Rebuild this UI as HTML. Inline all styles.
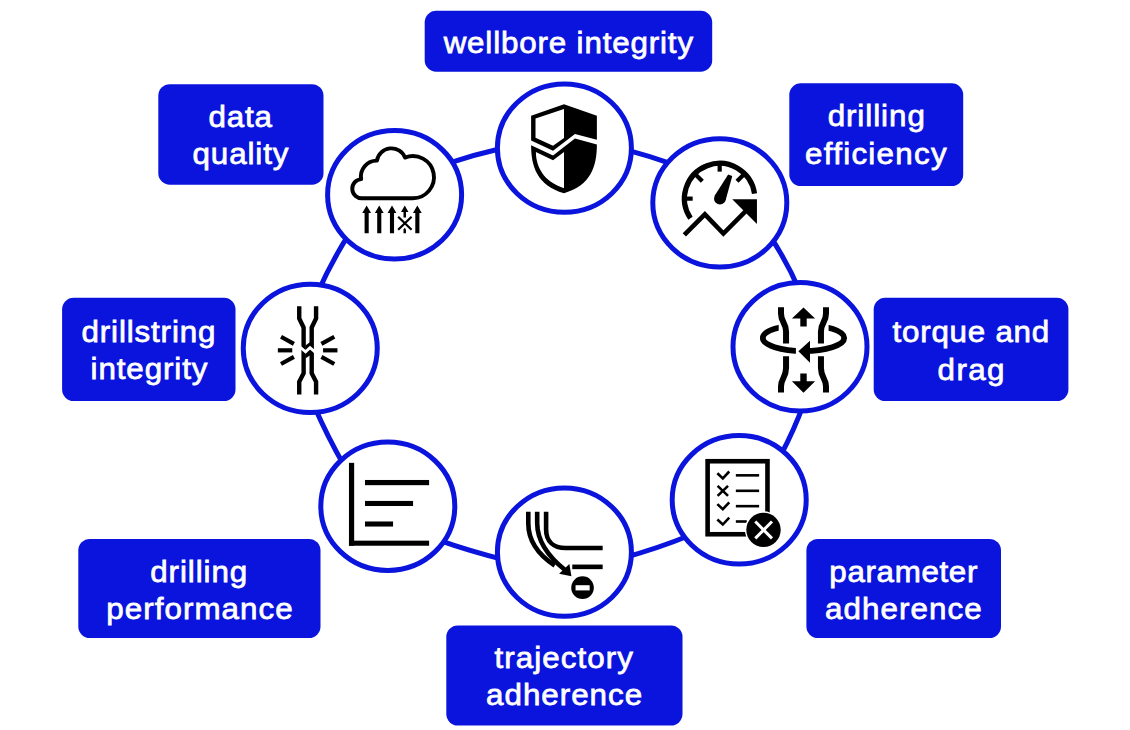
<!DOCTYPE html>
<html><head><meta charset="utf-8"><title>drilling KPIs</title>
<style>
html,body{margin:0;padding:0;background:#fff;}
body{width:1130px;height:730px;overflow:hidden;font-family:"Liberation Sans",sans-serif;}
svg{display:block}
.t{font-family:"Liberation Sans",sans-serif;font-size:30px;fill:#fff;text-anchor:middle;letter-spacing:0.9px;stroke:#fff;stroke-width:0.75px;}
</style></head><body>
<svg width="1130" height="730" viewBox="0 0 1130 730">
<path d="M444.8 164.4 Q474.4 154.5 505.2 147.5" fill="none" stroke="#0a14dc" stroke-width="5.0"/>
<path d="M622.9 148.8 Q649.3 155.8 674.7 164.9" fill="none" stroke="#0a14dc" stroke-width="5.0"/>
<path d="M768.9 234.5 Q787.2 261.6 799.6 291.0" fill="none" stroke="#0a14dc" stroke-width="5.0"/>
<path d="M803.9 403.2 Q794.0 430.7 779.9 456.8" fill="none" stroke="#0a14dc" stroke-width="5.0"/>
<path d="M691.3 534.8 Q658.1 548.4 622.9 558.0" fill="none" stroke="#0a14dc" stroke-width="5.0"/>
<path d="M505.6 560.1 Q470.3 551.4 436.5 539.4" fill="none" stroke="#0a14dc" stroke-width="5.0"/>
<path d="M344.6 466.4 Q327.4 436.6 314.0 405.5" fill="none" stroke="#0a14dc" stroke-width="5.0"/>
<path d="M317.8 292.5 Q331.1 262.2 349.3 233.7" fill="none" stroke="#0a14dc" stroke-width="5.0"/>
<ellipse cx="564.40" cy="148.10" rx="67" ry="64.2" fill="#fff" stroke="#0a14dc" stroke-width="5.0"/>
<ellipse cx="719.80" cy="202.85" rx="67" ry="64.2" fill="#fff" stroke="#0a14dc" stroke-width="5.0"/>
<ellipse cx="800.00" cy="346.80" rx="67" ry="64.2" fill="#fff" stroke="#0a14dc" stroke-width="5.0"/>
<ellipse cx="739.20" cy="499.80" rx="67" ry="64.2" fill="#fff" stroke="#0a14dc" stroke-width="5.0"/>
<ellipse cx="564.40" cy="552.10" rx="67" ry="64.2" fill="#fff" stroke="#0a14dc" stroke-width="5.0"/>
<ellipse cx="387.80" cy="506.25" rx="67" ry="64.2" fill="#fff" stroke="#0a14dc" stroke-width="5.0"/>
<ellipse cx="310.25" cy="348.35" rx="67" ry="64.2" fill="#fff" stroke="#0a14dc" stroke-width="5.0"/>
<ellipse cx="394.60" cy="194.80" rx="67" ry="64.2" fill="#fff" stroke="#0a14dc" stroke-width="5.0"/>
<rect x="424.7" y="10.8" width="287.5" height="60.9" rx="11.5" ry="11.5" fill="#0a14dc"/>
<text transform="translate(568.78,52.7) scale(1.044,1)" x="0" y="0" class="t" style="letter-spacing:0.817px">wellbore integrity</text>
<rect x="789.3" y="83.3" width="173.9" height="102.8" rx="11.5" ry="11.5" fill="#0a14dc"/>
<text transform="translate(876.68,125.8) scale(1.044,1)" x="0" y="0" class="t" style="letter-spacing:0.914px">drilling</text>
<text transform="translate(876.45,164.3) scale(1.044,1)" x="0" y="0" class="t" style="letter-spacing:1.237px">efficiency</text>
<rect x="873.7" y="297.8" width="194.7" height="103.2" rx="11.5" ry="11.5" fill="#0a14dc"/>
<text transform="translate(971.28,341.8) scale(1.044,1)" x="0" y="0" class="t" style="letter-spacing:0.730px">torque and</text>
<text transform="translate(971.69,379.7) scale(1.044,1)" x="0" y="0" class="t" style="letter-spacing:1.318px">drag</text>
<rect x="806.4" y="539.0" width="194.6" height="99.1" rx="11.5" ry="11.5" fill="#0a14dc"/>
<text transform="translate(903.68,581.8) scale(1.044,1)" x="0" y="0" class="t" style="letter-spacing:0.642px">parameter</text>
<text transform="translate(903.84,619.2) scale(1.044,1)" x="0" y="0" class="t" style="letter-spacing:1.028px">adherence</text>
<rect x="446.3" y="625.5" width="236.2" height="100.0" rx="11.5" ry="11.5" fill="#0a14dc"/>
<text transform="translate(564.22,668.0) scale(1.044,1)" x="0" y="0" class="t" style="letter-spacing:1.003px">trajectory</text>
<text transform="translate(564.60,705.4) scale(1.044,1)" x="0" y="0" class="t" style="letter-spacing:0.956px">adherence</text>
<rect x="78.3" y="539.0" width="242.2" height="99.1" rx="11.5" ry="11.5" fill="#0a14dc"/>
<text transform="translate(199.22,581.8) scale(1.044,1)" x="0" y="0" class="t" style="letter-spacing:0.901px">drilling</text>
<text transform="translate(199.97,619.2) scale(1.044,1)" x="0" y="0" class="t" style="letter-spacing:1.005px">performance</text>
<rect x="62.1" y="297.8" width="173.4" height="103.2" rx="11.5" ry="11.5" fill="#0a14dc"/>
<text transform="translate(148.88,341.8) scale(1.044,1)" x="0" y="0" class="t" style="letter-spacing:0.824px">drillstring</text>
<text transform="translate(149.45,379.2) scale(1.044,1)" x="0" y="0" class="t" style="letter-spacing:0.856px">integrity</text>
<rect x="158.3" y="84.2" width="165.2" height="100.5" rx="11.5" ry="11.5" fill="#0a14dc"/>
<text transform="translate(240.64,127.2) scale(1.044,1)" x="0" y="0" class="t" style="letter-spacing:0.847px">data</text>
<text transform="translate(240.90,164.3) scale(1.044,1)" x="0" y="0" class="t" style="letter-spacing:0.859px">quality</text>
<polygon points="531.12,115.81 564,104.16 596.88,115.81 596.88,139.78 574.96,133.89 553.04,150.74 531.12,140.47" fill="#000"/>
<polygon points="535.51,118.55 564,108.96 564,138 553.04,145.67 535.51,137.73" fill="#fff"/>
<path d="M531.12 145.26 L553.04 155.53 L574.96 138.41 L596.88 144.58 C596.88 166.49 590.71 185.67 564 193.21 C537.29 185.67 531.12 166.49 531.12 145.26 Z" fill="#000"/>
<path d="M535.92 152.11 L553.04 160.33 L564 152.11 L564 188.14 C543.45 181.84 535.92 166.49 535.92 152.11 Z" fill="#fff"/>
<path d="M690.48 218.32 A35.21 35.21 0 1 1 754.53 193.73" fill="none" stroke="#000" stroke-width="5.2"/>
<line x1="684.46" y1="198.63" x2="692.68" y2="198.63" stroke="#000" stroke-width="4.2"/>
<line x1="694.78" y1="173.74" x2="702.33" y2="181.29" stroke="#000" stroke-width="4.2"/>
<line x1="719.67" y1="163.42" x2="719.67" y2="171.64" stroke="#000" stroke-width="4.2"/>
<line x1="744.56" y1="173.74" x2="737.01" y2="181.29" stroke="#000" stroke-width="4.2"/>
<circle cx="719.95" cy="198.63" r="5.9" fill="#000"/>
<polygon points="728.16,174.38 732.27,176.03 725.7,200 714.47,195.89" fill="#000"/>
<polyline points="684.33,234.93 704.88,214.38 723.37,233.56 748.71,208.22" fill="none" stroke="#000" stroke-width="4.6" stroke-linejoin="miter"/>
<polygon points="732.27,199.32 756.93,199.32 756.93,223.97" fill="#000"/>
<ellipse cx="803.5" cy="338" rx="40.7" ry="13" fill="none" stroke="#000" stroke-width="5.75"/>
<rect x="778.7" y="316" width="49.9" height="18.5" fill="#fff"/>
<rect x="795.9" y="344" width="13" height="15" fill="#fff"/>
<path d="M781 307.2 L781 313.5 C781 322.5 786.05 322.5 786.05 331.5 L786.05 343.5" fill="none" stroke="#000" stroke-width="6"/>
<path d="M786.05 356.2 L786.05 368 C786.05 378 781 378 781 386.5 L781 392.6" fill="none" stroke="#000" stroke-width="6"/>
<path d="M826 307.2 L826 313.5 C826 322.5 820.95 322.5 820.95 331.5 L820.95 343.5" fill="none" stroke="#000" stroke-width="6"/>
<path d="M820.95 356.2 L820.95 368 C820.95 378 826 378 826 386.5 L826 392.6" fill="none" stroke="#000" stroke-width="6"/>
<polygon points="798.4,351.3 810,340.7 810,362.8" fill="#000"/>
<polygon points="803.5,307.4 815.1,318.6 806.7,318.6 806.7,326.5 800.3,326.5 800.3,318.6 791.9,318.6" fill="#000"/>
<polygon points="803.5,392.7 815.1,381.3 806.7,381.3 806.7,373.4 800.3,373.4 800.3,381.3 791.9,381.3" fill="#000"/>
<rect x="707.62" y="461.23" width="59.86" height="73.02" fill="none" stroke="#000" stroke-width="4.6"/>
<line x1="735.84" y1="475.34" x2="759.12" y2="475.34" stroke="#000" stroke-width="2.6"/>
<polyline points="717.34,473.29 722.82,478.36 729.26,471.51" fill="none" stroke="#000" stroke-width="2.6"/>
<line x1="735.84" y1="490.82" x2="759.12" y2="490.82" stroke="#000" stroke-width="2.6"/>
<path d="M717.62 485.89 L728.03 495.89 M728.03 485.89 L717.62 495.89" stroke="#000" stroke-width="2.6" fill="none"/>
<line x1="735.84" y1="506.16" x2="759.12" y2="506.16" stroke="#000" stroke-width="2.6"/>
<polyline points="717.34,504.11 722.82,509.18 729.26,502.33" fill="none" stroke="#000" stroke-width="2.6"/>
<line x1="735.84" y1="521.51" x2="746.79" y2="521.51" stroke="#000" stroke-width="2.6"/>
<polyline points="717.34,519.45 722.82,524.52 729.26,517.67" fill="none" stroke="#000" stroke-width="2.6"/>
<circle cx="763.51" cy="529.86" r="18.6" fill="#fff"/>
<circle cx="763.51" cy="529.86" r="17.2" fill="#000"/>
<path d="M755.29 521.51 L772 538.36 M772 521.51 L755.29 538.36" stroke="#fff" stroke-width="3" fill="none"/>
<path d="M546.1 511.64 L546.1 529.45 C546.1 541.1 553.36 547.95 565.68 547.95 L602.67 547.95" fill="none" stroke="#000" stroke-width="4.6"/>
<line x1="572.26" y1="566.85" x2="602.67" y2="566.85" stroke="#000" stroke-width="4.6"/>
<path d="M528.29 511.64 L528.29 523.29 C528.29 541.1 538.29 554.79 554.73 565.48" fill="none" stroke="#000" stroke-width="4.6"/>
<path d="M537.19 511.64 L537.19 523.29 C537.19 541.1 549.25 557.53 565.68 570.55" fill="none" stroke="#000" stroke-width="4.6"/>
<polygon points="571.44,576.3 559.11,573.7 569.38,564.11" fill="#000"/>
<circle cx="582.53" cy="587.67" r="11.3" fill="#000"/>
<rect x="575.55" y="585.21" width="14.11" height="5.2" fill="#fff"/>
<rect x="348.96" y="462.85" width="5.2" height="82.88" fill="#000"/>
<rect x="348.96" y="540.66" width="80.14" height="5.07" fill="#000"/>
<rect x="364.99" y="479.97" width="64.11" height="5.21" fill="#000"/>
<rect x="364.99" y="500.93" width="48.08" height="5.07" fill="#000"/>
<rect x="364.99" y="521.48" width="28.08" height="5.07" fill="#000"/>
<polyline points="299.23,306.22 299.23,318.55 303.62,327.45 303.62,373.34 299.23,381.84 299.23,394.58" fill="none" stroke="#000" stroke-width="4.4"/>
<polyline points="316.08,306.22 316.08,318.55 311.7,327.45 311.7,373.34 316.08,381.84 316.08,394.58" fill="none" stroke="#000" stroke-width="4.4"/>
<polygon points="305.41,345.55 310.14,342.12 310.14,355.14 305.41,358.56" fill="#000"/>
<polyline points="299.73,346.78 305.55,351.85 310,347.74 315.48,352.4" fill="none" stroke="#fff" stroke-width="2.8"/>
<line x1="337.45" y1="350.33" x2="323.07" y2="350.33" stroke="#000" stroke-width="4.2"/>
<line x1="334.3" y1="336.77" x2="321.42" y2="343.89" stroke="#000" stroke-width="4.2"/>
<line x1="334.3" y1="364.03" x2="321.42" y2="356.9" stroke="#000" stroke-width="4.2"/>
<line x1="277.86" y1="350.33" x2="292.25" y2="350.33" stroke="#000" stroke-width="4.2"/>
<line x1="281.01" y1="336.77" x2="293.89" y2="343.89" stroke="#000" stroke-width="4.2"/>
<line x1="281.01" y1="364.03" x2="293.89" y2="356.9" stroke="#000" stroke-width="4.2"/>
<path d="M362.55 198.27 A9.58904 9.58904 0 0 1 361.18 179.1 A15.7534 15.7534 0 0 1 376.93 160.6 A14.6575 14.6575 0 0 1 405.01 157.59 A21.0959 21.0959 0 1 1 412.82 198.27 Z" fill="none" stroke="#000" stroke-width="3.9" stroke-linejoin="round"/>
<polygon points="366.66,205.53 371.04,213.07 368.71,213.07 368.71,233.21 364.6,233.21 364.6,213.07 362.27,213.07" fill="#000"/>
<polygon points="379.26,205.53 383.64,213.07 381.32,213.07 381.32,233.21 377.21,233.21 377.21,213.07 374.88,213.07" fill="#000"/>
<polygon points="392,205.53 396.38,213.07 394.05,213.07 394.05,233.21 389.95,233.21 389.95,213.07 387.62,213.07" fill="#000"/>
<polygon points="404.74,205.53 408.44,211.97 405.97,211.97 405.97,217.45 403.51,217.45 403.51,211.97 401.04,211.97" fill="#000"/>
<polygon points="404.74,227.73 405.97,229.51 405.97,233.21 403.51,233.21 403.51,229.51" fill="#000"/>
<path d="M398.16 216.77 L411.59 229.78 M411.59 216.77 L398.16 229.78" stroke="#000" stroke-width="2.3" fill="none"/>
<polygon points="417.34,205.53 421.73,213.07 419.4,213.07 419.4,233.21 415.29,233.21 415.29,213.07 412.96,213.07" fill="#000"/>
</svg>
</body></html>
